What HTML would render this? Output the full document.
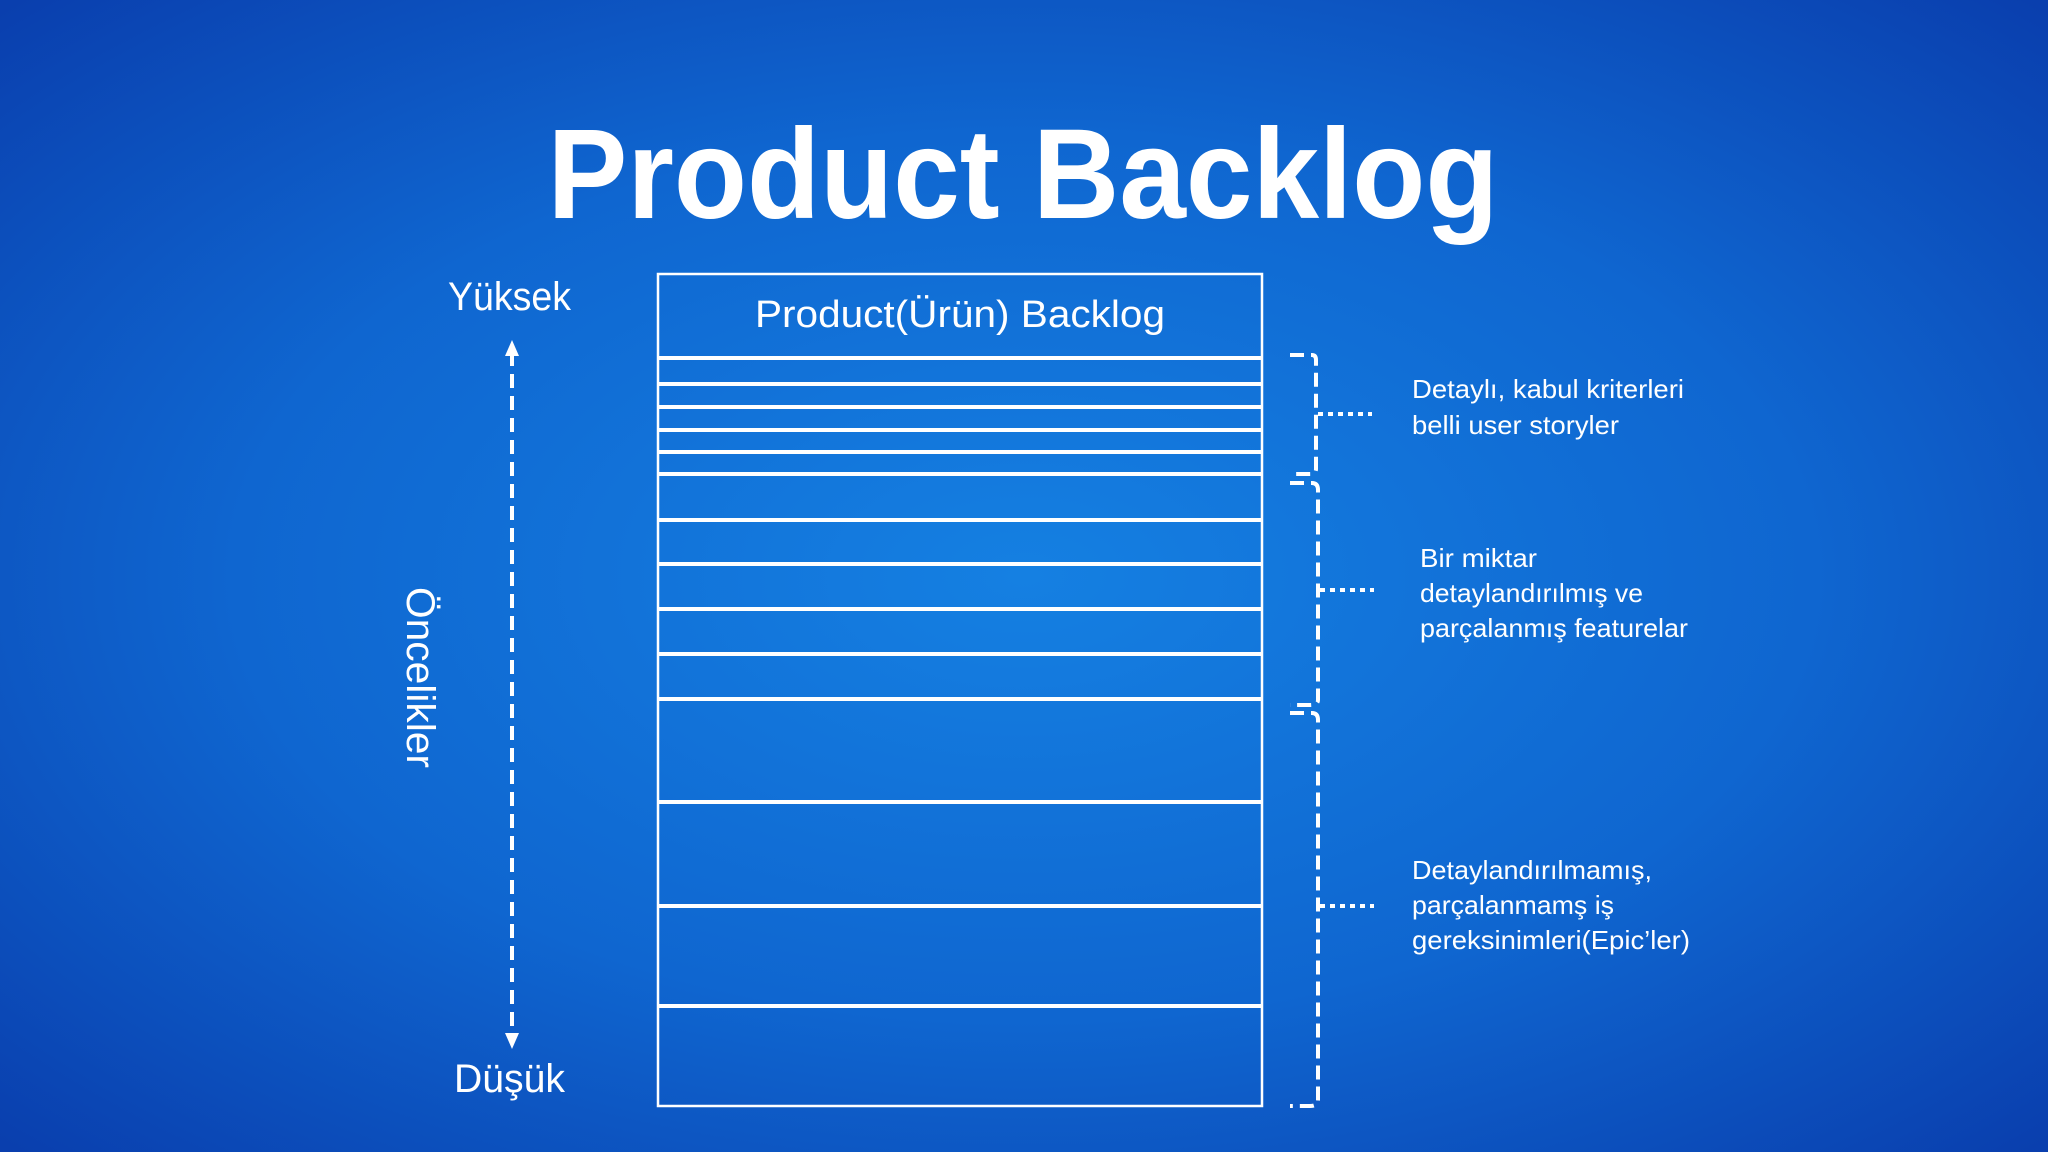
<!DOCTYPE html>
<html><head><meta charset="utf-8"><style>
html,body{margin:0;padding:0;width:2048px;height:1152px;overflow:hidden}
svg{display:block}
</style></head><body>
<svg width="2048" height="1152" viewBox="0 0 2048 1152" xmlns="http://www.w3.org/2000/svg">
<defs>
<radialGradient id="bg" cx="50%" cy="50%" r="70%">
<stop offset="0" stop-color="#1580e2"/>
<stop offset="0.55" stop-color="#0f66d0"/>
<stop offset="1" stop-color="#0a3fae"/>
</radialGradient>
</defs>
<rect width="2048" height="1152" fill="url(#bg)"/>
<text x="1023" y="218" font-family="Liberation Sans, sans-serif" font-weight="bold" font-size="128" fill="#fff" text-anchor="middle" textLength="951" lengthAdjust="spacingAndGlyphs">Product Backlog</text>

<g stroke="#fff" fill="none">
<rect x="658" y="274" width="604" height="832" stroke-width="2.5"/>
<g stroke-width="4">
<line x1="658" y1="358" x2="1262" y2="358"/>
<line x1="658" y1="384" x2="1262" y2="384"/>
<line x1="658" y1="407" x2="1262" y2="407"/>
<line x1="658" y1="430" x2="1262" y2="430"/>
<line x1="658" y1="452" x2="1262" y2="452"/>
<line x1="658" y1="474" x2="1262" y2="474"/>
<line x1="658" y1="520" x2="1262" y2="520"/>
<line x1="658" y1="564" x2="1262" y2="564"/>
<line x1="658" y1="609" x2="1262" y2="609"/>
<line x1="658" y1="654" x2="1262" y2="654"/>
<line x1="658" y1="699" x2="1262" y2="699"/>
<line x1="658" y1="802" x2="1262" y2="802"/>
<line x1="658" y1="906" x2="1262" y2="906"/>
<line x1="658" y1="1006" x2="1262" y2="1006"/>
</g>
<line x1="512" y1="352" x2="512" y2="1036" stroke-width="4" stroke-dasharray="14,8"/>
<g stroke-width="4" stroke-dasharray="14,7">
<path d="M1290 355 H1312 Q1316 355 1316 360 V469 Q1316 474 1310 474 H1290"/>
<path d="M1290 483 H1312 Q1318 483 1318 490 V700 Q1318 705 1310 705 H1290"/>
<path d="M1290 713 H1312 Q1318 713 1318 720 V1100 Q1318 1106 1310 1106 H1290"/>
</g>
<g stroke-width="4" stroke-dasharray="5,5">
<line x1="1318" y1="414" x2="1372" y2="414"/>
<line x1="1320" y1="590" x2="1374" y2="590"/>
<line x1="1320" y1="906" x2="1374" y2="906"/>
</g>
</g>
<polygon points="512,340 505,356 519,356" fill="#fff"/>
<polygon points="512,1049 505,1033 519,1033" fill="#fff"/>

<g font-family="Liberation Sans, sans-serif" fill="#fff">
<text x="960" y="327" font-size="38" text-anchor="middle" textLength="410" lengthAdjust="spacingAndGlyphs">Product(Ürün) Backlog</text>
<text x="448" y="310" font-size="40" textLength="123" lengthAdjust="spacingAndGlyphs">Yüksek</text>
<text x="454" y="1092" font-size="40" textLength="111" lengthAdjust="spacingAndGlyphs">Düşük</text>
<text transform="translate(407,587) rotate(90)" font-size="40" textLength="181" lengthAdjust="spacingAndGlyphs">Öncelikler</text>
<g font-size="26">
<text x="1412" y="398" textLength="272" lengthAdjust="spacingAndGlyphs">Detaylı, kabul kriterleri</text>
<text x="1412" y="434" textLength="207" lengthAdjust="spacingAndGlyphs">belli user storyler</text>
<text x="1420" y="567" textLength="117" lengthAdjust="spacingAndGlyphs">Bir miktar</text>
<text x="1420" y="602" textLength="223" lengthAdjust="spacingAndGlyphs">detaylandırılmış ve</text>
<text x="1420" y="637" textLength="268" lengthAdjust="spacingAndGlyphs">parçalanmış featurelar</text>
<text x="1412" y="879" textLength="240" lengthAdjust="spacingAndGlyphs">Detaylandırılmamış,</text>
<text x="1412" y="914" textLength="202" lengthAdjust="spacingAndGlyphs">parçalanmamş iş</text>
<text x="1412" y="949" textLength="278" lengthAdjust="spacingAndGlyphs">gereksinimleri(Epic’ler)</text>
</g>
</g>
</svg>
</body></html>
